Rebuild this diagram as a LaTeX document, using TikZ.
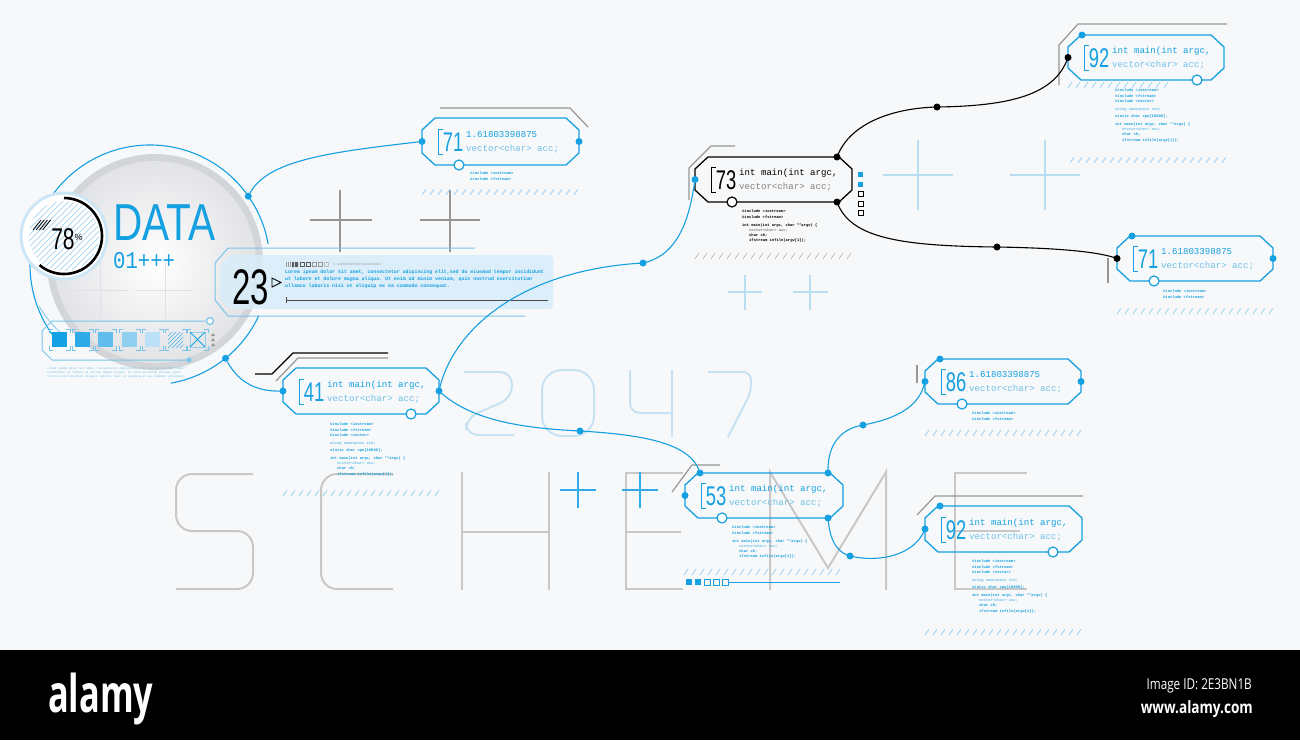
\documentclass[tikz,border=0pt]{standalone}
\usepackage{fontspec}
\usepackage{graphicx}
\setmainfont{Liberation Sans}
\setmonofont{Liberation Mono}
\newfontfamily\osans{Open Sans}
\usetikzlibrary{calc}
\definecolor{hb}{RGB}{20,160,225}
\definecolor{lb}{RGB}{110,192,233}
\definecolor{pb}{RGB}{216,237,249}
\definecolor{hatchc}{RGB}{165,212,238}
\definecolor{gl}{RGB}{150,150,150}
\definecolor{bgc}{RGB}{247,248,249}
\definecolor{sch}{RGB}{200,200,200}
\definecolor{tw}{RGB}{198,226,243}
\definecolor{crl}{RGB}{185,222,242}
\definecolor{crb}{RGB}{50,170,228}
\definecolor{fr}{RGB}{120,196,236}
\definecolor{sqa}{RGB}{20,160,228}
\definecolor{sqb}{RGB}{45,170,232}
\definecolor{sqc}{RGB}{95,188,237}
\definecolor{sqd}{RGB}{145,207,241}
\definecolor{sqe}{RGB}{188,224,246}
\definecolor{diskrim}{RGB}{212,213,216}
\definecolor{diskout}{RGB}{226,227,229}
\definecolor{faintc}{RGB}{222,226,230}
\definecolor{ringpale}{RGB}{205,230,245}
\newcommand{\hudtxt}{\ttfamily\fontsize{9.1}{14}\selectfont}
\newcommand{\hudnum}{\fontsize{27}{27}\selectfont}
\newcommand{\hudbox}[6]{%
  \draw[#6,line width=1.3pt,line join=round] (#2+13,#3) -- (#4-13,#3) -- (#4,#3+12) -- (#4,#5-12) -- (#4-13,#5) -- (#2+13,#5) -- (#2,#5-12) -- (#2,#3+12) -- cycle;
  \coordinate (#1L) at (#2,{(#3+#5)/2});
  \coordinate (#1R) at (#4,{(#3+#5)/2});
  \coordinate (#1TL) at (#2+15,#3);
  \coordinate (#1TR) at (#4-15,#3);
  \coordinate (#1BR) at (#4-15,#5);
}
\newcommand{\hudcontent}[9]{%
  \draw[#7,line width=0.9pt] (#2+21,#3-12) -- (#2+16,#3-12) -- (#2+16,#3+13) -- (#2+21,#3+13);
  \node[text=#7,font=\hudnum,inner sep=0pt] (#1n) at (#2+31,#3+1) {\scalebox{0.68}[1]{#4}};
  \node[font=\hudtxt,align=left,anchor=west,inner sep=0pt] (#1a) at (#2+44,#3+0.5) {\textcolor{#8}{#5}\\\textcolor{#9}{#6}};
}
\newcommand{\hatchrow}[4]{%
  \pgfmathtruncatemacro{\hudhn}{(#2-#1)/8}%
  \foreach \i in {0,...,\hudhn} \draw[#4,line width=0.9pt] (#1+8*\i,#3+3) -- ++(4,-6);
}
\newcommand{\hudcodefull}[2]{\textcolor{#1}{\#include <iostream>}\\\textcolor{#1}{\#include <fstream>}\\\textcolor{#1}{\#include <vector>}\\[2.5pt]\textcolor{#2}{using namespace std;}\\[2.5pt]\textcolor{#1}{static char cpu[10000];}\\[2.5pt]\textcolor{#1}{int main(int argc, char **argv) \{}\\\hspace*{7pt}\textcolor{#2}{vector<char> acc;}\\\hspace*{7pt}\textcolor{#1}{char ch;}\\\hspace*{7pt}\textcolor{#1}{ifstream infile(argv[1]);}}
\newcommand{\hudcodemid}[2]{\textcolor{#1}{\#include <iostream>}\\\textcolor{#1}{\#include <fstream>}\\[3pt]\textcolor{#1}{int main(int argc, char **argv) \{}\\\hspace*{7pt}\textcolor{#2}{vector<char> acc;}\\\hspace*{7pt}\textcolor{#1}{char ch;}\\\hspace*{7pt}\textcolor{#1}{ifstream infile(argv[1]);}}
\newcommand{\hudcodeshort}[1]{\textcolor{#1}{\#include <iostream>}\\\textcolor{#1}{\#include <fstream>}}
\tikzset{
  conn/.style={hb,line width=1.1pt},
  bconn/.style={black,line width=1.1pt},
  dotb/.style={circle,fill=hb,inner sep=0pt,minimum size=7pt},
  dotk/.style={circle,fill=black,inner sep=0pt,minimum size=7pt},
  ocirc/.style={circle,draw=#1,fill=white,line width=1.2pt,inner sep=0pt,minimum size=10pt},
  gbr/.style={gl,line width=1.2pt},
  codet/.style={font=\ttfamily\bfseries\fontsize{3.8}{5.2}\selectfont,align=left,anchor=north west,inner sep=0pt},
  lcross/.style={crl,line width=1.5pt},
  bcross/.style={crb,line width=1.5pt},
  gcross/.style={gl,line width=1.2pt},
}
\begin{document}
\begin{tikzpicture}[x=1pt,y=-1pt]
\useasboundingbox (0,0) rectangle (1300,740);
\fill[bgc] (0,0) rectangle (1300,650);
\fill[black] (0,650) rectangle (1300,740);
% ---------- SCHEME ----------
\begin{scope}[sch,line width=2pt,rounded corners=16pt]
\draw (253,474) -- (176,474) -- (176,531) -- (253,531) -- (253,589) -- (176,589);
\draw (393,474) -- (321,474) -- (321,589) -- (393,589);
\end{scope}
\begin{scope}[sch,line width=2pt]
\draw (462,472) -- (462,590) (549,472) -- (549,590) (462,532) -- (549,532);
\draw (683,473) -- (626,473) -- (626,589) -- (683,589) (626,532) -- (681,532);
\draw (770,590) -- (770,472) -- (828,568) -- (886,472) -- (886,590);
\draw (1027,473) -- (955,473) -- (955,589) -- (1027,589) (955,531) -- (1020,531);
\end{scope}
% ---------- 2047 ----------
\begin{scope}[tw,line width=2pt]
\draw[rounded corners=12pt] (464,372) -- (512,372) -- (512,398) -- (466,418) -- (466,435) -- (514,435);
\draw[rounded corners=20pt] (542,370) rectangle (594,436);
\draw[rounded corners=10pt] (630,370) -- (630,413) -- (672,413);
\draw (672,370) -- (672,437);
\draw[rounded corners=8pt] (708,372) -- (751,372) -- (751,392) -- (728,437);
\end{scope}
% ---------- crosses ----------
\draw[gcross] (340,190) -- (340,252) (310,220) -- (372,220);
\draw[gcross] (450,190) -- (450,252) (420,220) -- (480,220);
\draw[lcross] (918,140) -- (918,210) (883,175) -- (953,175);
\draw[lcross] (1045,140) -- (1045,210) (1010,175) -- (1080,175);
\draw[lcross] (745,275) -- (745,310) (728,292) -- (762,292);
\draw[lcross] (810,275) -- (810,310) (793,292) -- (828,292);
\draw[bcross] (578,472) -- (578,508) (560,490) -- (596,490);
\draw[bcross] (640,472) -- (640,508) (622,490) -- (658,490);
% ---------- big disk ----------
\fill[diskrim] (155,262) circle (108);
\shade[inner color=white,outer color=diskout] (155,262) circle (101);
\draw[faintc,line width=1pt] (100,262) -- (100,318) (72,290) -- (128,290);
\draw[faintc,line width=1pt] (165,262) -- (165,318) (137,290) -- (193,290);
% ring
\draw[conn] (58.1,342.1) arc[start angle=140,end angle=350,radius=120];
\draw[conn] (258.8,315.7) arc[start angle=25,end angle=80,radius=120];
\draw[fr,line width=0.8pt] (64.2,336) arc[start angle=130,end angle=150,radius=112];
\node[dotb] (rd1) at (248.3,196.2) {};
\node[dotb] (rd2) at (225.5,358.3) {};
% 78 circle
\draw[ringpale,line width=3pt,fill=white] (64,236) circle (43);
\begin{scope}
\clip (64,236) circle (35);
\fill[white] (64,236) circle (35);
\foreach \i in {-90,-84,...,90} \draw[hatchc,line width=0.7pt] (64+\i-45,236+45) -- (64+\i+45,236-45);
\end{scope}
\draw[black,line width=2.6pt] (64,198) arc[start angle=-90,end angle=130,radius=38];
\foreach \i in {0,1,2,3} \draw[black,line width=0.8pt] (33+3.2*\i,230) -- (41+3.2*\i,220);
\node[font=\fontsize{30}{30}\selectfont,inner sep=0pt] (pct) at (67,239) {\scalebox{0.7}[1]{78}\raisebox{9pt}{\fontsize{9}{9}\selectfont\%}};
% DATA
\node[text=hb,font=\fontsize{52}{52}\selectfont,anchor=base west,inner sep=0pt] (data) at (113,240) {\scalebox{0.78}[1]{DATA}};
\node[text=hb,font=\ttfamily\fontsize{24}{24}\selectfont,anchor=base west,inner sep=0pt] (dsub) at (113,268) {\scalebox{0.86}[1]{01+++}};
% bottom strip of the disk
\draw[fr,line width=1pt] (205,321) -- (52,321) -- (42,331) -- (42,350) -- (52,360) -- (186,360);
\node[ocirc=fr,minimum size=7pt] (pc) at (210,321) {};
\node[dotb,fill=fr,minimum size=5pt] (pd) at (189,360) {};
\foreach \x/\c in {52/sqa,75/sqb,98/sqc,122/sqd,145/sqe} \fill[\c] (\x,332) rectangle ++(15,15);
\foreach \x in {52,75,98,122,145,168,190} {
  \draw[fr,line width=0.6pt] (\x-3,333) |- (\x+1,329);
  \draw[fr,line width=0.6pt] (\x+14,329) -| (\x+18,333);
  \draw[fr,line width=0.6pt] (\x-3,346) |- (\x+1,350);
  \draw[fr,line width=0.6pt] (\x+14,350) -| (\x+18,346);
}
\begin{scope}
\clip (168,332) rectangle ++(15,15);
\foreach \i in {-15,-11,...,15} \draw[sqc,line width=0.7pt] (175.5+\i-10,339.5+10) -- (175.5+\i+10,339.5-10);
\end{scope}
\draw[sqd,line width=0.7pt] (190,332) rectangle ++(15,15);
\draw[hb,line width=0.9pt] (190,332) -- (205,347) (205,332) -- (190,347);
\foreach \y in {334,339,344} \fill[gl] (211,\y+2) -- (213,\y-1) -- (215,\y+2) -- cycle;
\node[text=lb,font=\ttfamily\fontsize{3}{4}\selectfont,text width=140pt,align=justify,anchor=north west,inner sep=0pt] (lorem2) at (47,367) {Lorem ipsum dolor sit amet, consectetur adipiscing elit,sed do eiusmod tempor incididunt ut labore et dolore magna aliqua. Ut enim ad minim veniam, quis nostrud exercitation ullamco laboris nisi ut aliquip ex ea commodo consequat.};
% ---------- 23 box ----------
\draw[fr,line width=1pt] (475,248) -- (228,248) -- (215,263) -- (215,300) -- (228,316) -- (525,316);
\fill[pb,opacity=0.85,rounded corners=4pt] (230,255) -- (553,255) -- (553,309) -- (230,309) -- (220,299) -- (220,265) -- cycle;
\node[font=\fontsize{50}{50}\selectfont,inner sep=0pt] (n23) at (251,287) {\scalebox{0.66}[1]{23}};
\draw[black,line width=0.9pt] (272,278) -- (281,282.5) -- (272,287) -- cycle;
\foreach \x in {286,288,290} \draw[gl,line width=0.6pt] (\x,262) -- (\x,267);
\fill[gray!70!black] (292,262) rectangle ++(2,5) (295,262) rectangle ++(3,5);
\foreach \x in {300,306} \draw[gray!70!black,line width=0.8pt] (\x,262.5) rectangle ++(4,4);
\foreach \x in {312,318} \draw[gl,line width=0.7pt] (\x,262.5) rectangle ++(4,4);
\draw[gray!50,line width=0.6pt] (324,262.5) rectangle ++(4,4);
\node[text=gl,font=\ttfamily\fontsize{3.2}{4}\selectfont,anchor=west,inner sep=0pt] (pi) at (333,264.5) {3.14159265358979323846264};
\node[text=hb,font=\ttfamily\bfseries\fontsize{4.9}{7}\selectfont,align=left,anchor=north west,inner sep=0pt] (lorem) at (285,270) {Lorem ipsum dolor sit amet, consectetur adipiscing elit,sed do eiusmod tempor incididunt\\ut labore et dolore magna aliqua. Ut enim ad minim veniam, quis nostrud exercitation\\ullamco laboris nisi ut aliquip ex ea commodo consequat.};
\draw[gray!60!black,line width=1pt] (286,300) -- (548,300);
\draw[gray!60!black,line width=0.8pt] (286,297) -- (286,303);
% ---------- gray brackets ----------
\draw[gbr] (440,108) -- (570,108) -- (588,127);
\draw[gbr] (735,146) -- (711,146) -- (689,168) -- (689,200);
\draw[gbr] (1059,85) -- (1059,45) -- (1078,24) -- (1227,24);
\draw[black,line width=1.2pt] (255,374) -- (272,374) -- (293,353) -- (388,353);
\draw[gbr] (276,381) -- (298,358) -- (388,358);
\draw[gbr] (672,492) -- (692,465) -- (720,465);
\draw[gbr] (917,515) -- (935,496) -- (1083,496);
\draw[gbr] (917,365) -- (917,383);
\draw[gbr] (1108,258) -- (1108,283);
% ---------- boxes ----------
\hudbox{A}{422}{118}{579}{165}{hb}
\hudbox{B}{695}{157}{852}{202}{black}
\hudbox{C}{1068}{35}{1224}{80}{hb}
\hudbox{D}{1117}{236}{1273}{281}{hb}
\hudbox{E}{283}{368}{439}{414}{hb}
\hudbox{F}{685}{473}{843}{518}{hb}
\hudbox{G}{925}{359}{1081}{404}{hb}
\hudbox{H}{925}{506}{1082}{552}{hb}
\hudcontent{A}{422}{141.5}{71}{1.61803398875}{vector<char> acc;}{hb}{hb}{lb}
\hudcontent{B}{695}{179.5}{73}{int main(int argc,}{vector<char> acc;}{black}{black}{gray}
\hudcontent{C}{1068}{57.5}{92}{int main(int argc,}{vector<char> acc;}{hb}{hb}{lb}
\hudcontent{D}{1117}{258.5}{71}{1.61803398875}{vector<char> acc;}{hb}{hb}{lb}
\hudcontent{E}{283}{391}{41}{int main(int argc,}{vector<char> acc;}{hb}{hb}{lb}
\hudcontent{F}{685}{495.5}{53}{int main(int argc,}{vector<char> acc;}{hb}{hb}{lb}
\hudcontent{G}{925}{381.5}{86}{1.61803398875}{vector<char> acc;}{hb}{hb}{lb}
\hudcontent{H}{925}{529}{92}{int main(int argc,}{vector<char> acc;}{hb}{hb}{lb}
% code blocks
\node[codet] (codeA) at (470,172) {\hudcodeshort{hb}};
\node[codet] (codeB) at (742,210) {\hudcodemid{black}{gray}};
\node[codet] (codeC) at (1115,89) {\hudcodefull{hb}{lb}};
\node[codet] (codeD) at (1163,290) {\hudcodeshort{hb}};
\node[codet] (codeE) at (330,423) {\hudcodefull{hb}{lb}};
\node[codet] (codeF) at (732,526) {\hudcodemid{hb}{lb}};
\node[codet] (codeG) at (972,412) {\hudcodeshort{hb}};
\node[codet] (codeH) at (972,560) {\hudcodefull{hb}{lb}};
% hatch rows
\hatchrow{422}{576}{192}{hatchc}
\hatchrow{695}{848}{256}{gray!45}
\hatchrow{1068}{1168}{85}{hatchc}
\hatchrow{1070}{1222}{160}{hatchc}
\hatchrow{1117}{1270}{311}{hatchc}
\hatchrow{283}{436}{493}{hatchc}
\hatchrow{684}{838}{572}{hatchc}
\hatchrow{925}{1078}{433}{hatchc}
\hatchrow{925}{1078}{632}{hatchc}
% small squares
\foreach \y in {174,184} \fill[hb] (858,\y-2.5) rectangle ++(5,5);
\foreach \y in {194,204,213} \draw[black,line width=0.8pt] (858,\y-2.5) rectangle ++(5,5);
\foreach \x in {686,695} \fill[hb] (\x,579) rectangle ++(6,6);
\foreach \x in {704,713,722} \draw[hb,line width=0.8pt] (\x,579) rectangle ++(6,6);
\draw[hb,line width=0.8pt] (728,582) -- (840,582);
% ---------- connectors ----------
\node[dotb] (d41a) at (643,263) {};
\node[dotb] (d41b) at (580,431) {};
\node[dotk] (d73a) at (937,107) {};
\node[dotk] (d73b) at (997,247) {};
\node[dotb] (d53a) at (863,425) {};
\node[dotb] (d53b) at (850,556) {};
\draw[conn] (rd1) .. controls (268,160) and (330,152) .. (AL);
\draw[conn] (rd2) .. controls (240,385) and (260,392) .. (EL);
\draw[conn] (ER) .. controls (452,330) and (520,270) .. (d41a.center) .. controls (680,255) and (690,215) .. (BL);
\draw[conn] (ER) .. controls (470,420) and (520,428) .. (d41b.center) .. controls (650,435) and (692,445) .. (FTL);
\draw[bconn] (BTR) .. controls (850,122) and (895,108) .. (d73a.center) .. controls (1010,106) and (1055,95) .. (CL);
\draw[bconn] (BBR) .. controls (850,238) and (900,246) .. (d73b.center) .. controls (1060,248) and (1100,252) .. (DL);
\draw[conn] (FTR) .. controls (827,440) and (845,428) .. (d53a.center) .. controls (900,418) and (920,405) .. (GL);
\draw[conn] (FBR) .. controls (830,545) and (840,553) .. (d53b.center) .. controls (880,563) and (915,555) .. (HL);
% box dots
\node[dotb] at (AL) (dAL) {};
\node[dotb] at (AR) (dAR) {};
\node[dotb] at (BL) (dBL) {};
\node[dotk] at (BTR) (dBTR) {};
\node[dotk] at (BBR) (dBBR) {};
\node[dotb] (dCT) at (1082,35) {};
\node[dotk] at (CL) (dCL) {};
\node[dotb] (dDT) at (1132,236) {};
\node[dotk] at (DL) (dDL) {};
\node[dotb] at (DR) (dDR) {};
\node[dotb] at (EL) (dEL) {};
\node[dotb] at (ER) (dER) {};
\node[dotb] at (FL) (dFL) {};
\node[dotb] at (FTL) (dFTL) {};
\node[dotb] at (FTR) (dFTR) {};
\node[dotb] at (FBR) (dFBR) {};
\node[dotb] (dGT) at (940,359) {};
\node[dotb] at (GL) (dGL) {};
\node[dotb] at (GR) (dGR) {};
\node[dotb] (dHT) at (940,506) {};
\node[dotb] at (HL) (dHL) {};
% open circles
\node[ocirc=hb] (oA) at (459,165) {};
\node[ocirc=black] (oB) at (732,202) {};
\node[ocirc=hb] (oC) at (1197,80) {};
\node[ocirc=hb] (oD) at (1154,281) {};
\node[ocirc=hb] (oE) at (411,414) {};
\node[ocirc=hb] (oF) at (722,518) {};
\node[ocirc=hb] (oG) at (962,404) {};
\node[ocirc=hb] (oH) at (1053,552) {};
% ---------- footer ----------
\node[text=white,font=\osans\bfseries\fontsize{52}{52}\selectfont,anchor=base west,inner sep=0pt] (logo) at (48,712) {\scalebox{0.66}[1]{alamy}};
\node[text=white,font=\osans\fontsize{15}{15}\selectfont,anchor=base east,inner sep=0pt] (imgid) at (1252,689) {\scalebox{0.78}[1]{Image ID: 2E3BN1B}};
\node[text=white,font=\osans\bfseries\fontsize{17}{17}\selectfont,anchor=base east,inner sep=0pt] (www) at (1253,713) {\scalebox{0.8}[1]{www.alamy.com}};
\end{tikzpicture}
\end{document}
